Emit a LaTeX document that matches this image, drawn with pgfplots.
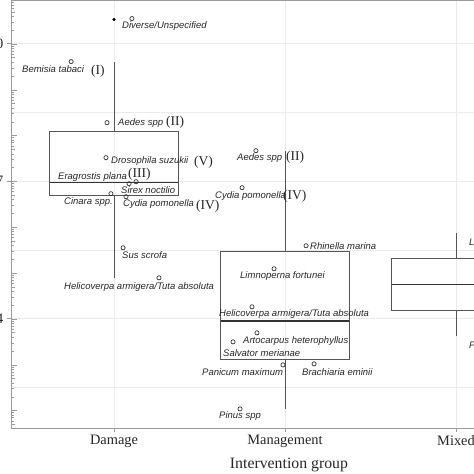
\documentclass[border=0pt]{standalone}
\usepackage{pgfplots}
\pgfplotsset{compat=1.18}
\usepackage{fontspec}
\setmainfont{Liberation Serif}
\newfontfamily\lsans{Liberation Sans}
\definecolor{boxc}{HTML}{555555}
\definecolor{ptc}{HTML}{333333}
\definecolor{gridc}{HTML}{EBEBEB}
\definecolor{axc}{HTML}{9A9A9A}
\newcommand{\spl}[3]{\node[anchor=base west,inner sep=0pt,text=black!85,font=\lsans\itshape\fontsize{9.5}{11}\selectfont] at ({#1},{474-#2-3}) {#3};}
\newcommand{\rn}[3]{\node[anchor=base west,inner sep=0pt,text=black!85,font=\fontsize{13.5}{15}\selectfont] at ({#1},{474-#2-3.4}) {#3};}
\begin{document}
\begin{tikzpicture}[x=1pt,y=1pt]
\useasboundingbox (0,0) rectangle (474,474);
\clip (0,0) rectangle (474,474);
\begin{axis}[
  at={(11.4pt,46pt)}, anchor=south west,
  scale only axis, width=547.2pt, height=428pt,
  xmin=-0.6, xmax=2.6, ymin=1.62, ymax=10.95,
  axis line style={axc, line width=0.8pt},
  xtick={0,1,2}, xticklabels={Damage,Management,Mixed},
  ytick={4,7,10}, yticklabels={1e+04,1e+07,1e+10},
  minor ytick={2.5,5.5,8.5},
  tick pos=left,
  tick align=outside, major tick length=4pt, minor tick length=0pt,
  tick style={axc, line width=0.8pt},
  grid=both,
  major grid style={gridc, line width=0.8pt},
  minor grid style={gridc, line width=0.5pt},
  xticklabel style={font=\fontsize{14.4}{16}\selectfont, anchor=north, inner sep=0pt, yshift=-3pt, text=black!85},
  yticklabel style={font=\fontsize{14.4}{16}\selectfont, anchor=east, inner sep=0pt, xshift=-4pt, text=black!85},
  xlabel={Intervention group},
  xlabel style={at={(axis description cs:0.5,0)}, anchor=north, inner sep=0pt, yshift=-30pt, xshift=4pt, font=\fontsize{15.8}{18}\selectfont, text=black!85},
]
% ---- Damage box (x = 0)
\addplot[draw=boxc, line width=0.8pt] coordinates {(0,4.894) (0,6.683)};
\addplot[draw=boxc, line width=0.8pt] coordinates {(0,8.080) (0,9.60)};
\addplot[draw=boxc, line width=0.8pt] coordinates {(-0.375,6.683) (0.375,6.683) (0.375,8.080) (-0.375,8.080) (-0.375,6.683)};
\addplot[draw=ptc, line width=1.4pt] coordinates {(-0.375,6.967) (0.375,6.967)};
\addplot[only marks, mark=*, mark size=1.3pt, mark options={fill=black,draw=black}] coordinates {(0,10.524)};
% ---- Management box (x = 1)
\addplot[draw=boxc, line width=0.8pt] coordinates {(1,2.036) (1,3.105)};
\addplot[draw=boxc, line width=0.8pt] coordinates {(1,5.462) (1,7.665)};
\addplot[draw=boxc, line width=0.8pt] coordinates {(0.625,3.105) (1.375,3.105) (1.375,5.462) (0.625,5.462) (0.625,3.105)};
\addplot[draw=ptc, line width=1.4pt] coordinates {(0.625,3.956) (1.375,3.956)};
% ---- Mixed box (x = 2)
\addplot[draw=boxc, line width=0.8pt] coordinates {(2,3.629) (2,4.174)};
\addplot[draw=boxc, line width=0.8pt] coordinates {(2,5.309) (2,5.876)};
\addplot[draw=boxc, line width=0.8pt] coordinates {(1.625,4.174) (2.375,4.174) (2.375,5.309) (1.625,5.309) (1.625,4.174)};
\addplot[draw=ptc, line width=1.4pt] coordinates {(1.625,4.742) (2.375,4.742)};
% Damage points
\addplot[only marks, mark=o, mark size=2.1pt, mark options={draw=ptc, line width=0.7pt}] coordinates {
(0.105,10.545) (-0.251,9.607) (-0.041,8.276) (-0.047,7.513) (0.088,6.945) (0.129,6.989)
(-0.018,6.727) (0.070,6.662) (0.053,5.549) (0.263,4.894)};
% Management points
\addplot[only marks, mark=o, mark size=2.1pt, mark options={draw=ptc, line width=0.7pt}] coordinates {
(0.830,7.665) (0.749,6.858) (1.123,5.593) (0.936,5.091) (0.807,4.262) (0.836,3.694)
(0.696,3.498) (0.988,2.996) (1.170,3.018) (0.737,2.036)};
\end{axis}
% log ticks inside the panel
\foreach \k in {1,...,10}{
  \foreach \m/\len in {1/6,2/2.5,3/2.5,4/2.5,5/4,6/2.5,7/2.5,8/2.5,9/2.5}{
    \pgfmathsetmacro\yy{474-(44+(10-\k-log10(\m))*45.833)}
    \ifdim\yy pt>46pt
      \draw[axc, line width=0.6pt] (11.4,\yy) -- ++(\len,0);
    \fi
  }
}
% species labels
\spl{122}{26}{Diverse/Unspecified}
\spl{22}{70}{Bemisia tabaci}
\spl{118}{123}{Aedes spp}
\spl{111}{161}{Drosophila suzukii}
\spl{58}{176.5}{Eragrostis plana}
\spl{121}{191}{Sirex noctilio}
\spl{64}{202}{Cinara spp.}
\spl{123}{204}{Cydia pomonella}
\spl{122}{256}{Sus scrofa}
\spl{64}{287}{Helicoverpa armigera/Tuta absoluta}
\spl{237}{158}{Aedes spp}
\spl{215}{196}{Cydia pomonella}
\spl{310}{247}{Rhinella marina}
\spl{240}{276}{Limnoperna fortunei}
\spl{219}{314}{Helicoverpa armigera/Tuta absoluta}
\spl{243}{341}{Artocarpus heterophyllus}
\spl{223}{354}{Salvator merianae}
\spl{202}{373}{Panicum maximum}
\spl{302}{373}{Brachiaria eminii}
\spl{219}{416}{Pinus spp}
\spl{469}{243}{Lantana camara}
\spl{469}{346}{Prosopis spp.}
% roman numerals
\rn{91}{71}{(I)}
\rn{166}{122.5}{(II)}
\rn{194}{162.5}{(V)}
\rn{128}{174}{(III)}
\rn{196}{206.5}{(IV)}
\rn{286}{157.5}{(II)}
\rn{283}{196.5}{(IV)}
\end{tikzpicture}
\end{document}
